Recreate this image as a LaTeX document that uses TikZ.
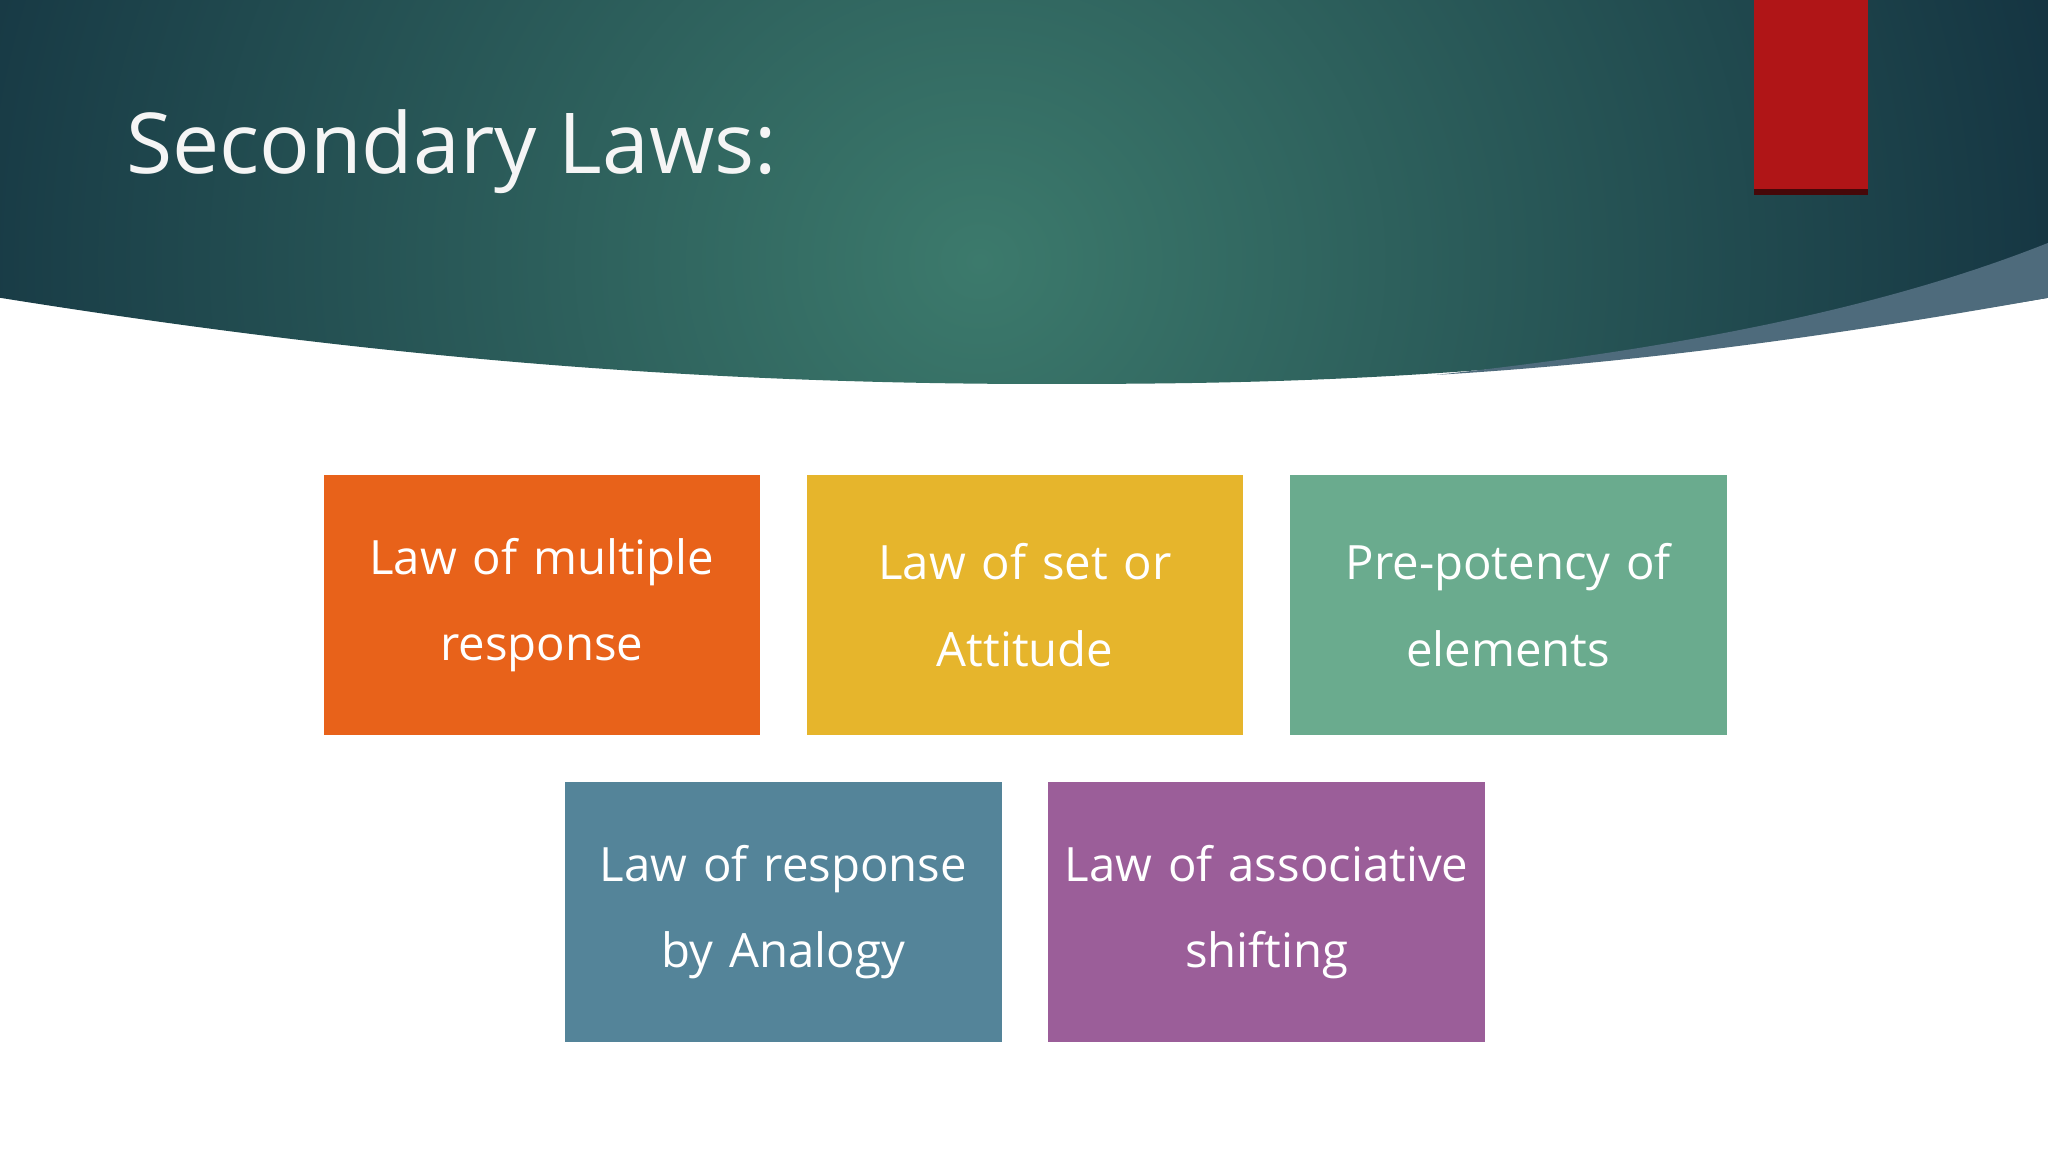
\documentclass[tikz,border=0pt]{standalone}
\usepackage{fontspec}
\setmainfont{Open Sans}
\definecolor{hdark}{HTML}{12303F}
\definecolor{hlight}{HTML}{3C7A6C}
\definecolor{cor}{HTML}{E8621A}
\definecolor{cye}{HTML}{E6B52C}
\definecolor{cgr}{HTML}{6AAB8E}
\definecolor{cbl}{HTML}{548499}
\definecolor{cpu}{HTML}{9B5E99}
\definecolor{cred}{HTML}{B01517}
\definecolor{cstrip}{HTML}{4E6B7C}
\begin{document}
\begin{tikzpicture}[x=0.01cm,y=-0.01cm,
  lawbox/.style={minimum width=3.34cm,minimum height=1.99cm,anchor=north west,inner sep=0pt,
    text=white,align=center,font=\fontsize{10.3pt}{18.8pt}\selectfont,text width=3.3cm}]
\useasboundingbox (0,0) rectangle (1568,882);
\fill[white] (0,0) rectangle (1568,882);
\begin{scope}
\clip (0,0) -- (1568,0) -- (1568,228) .. controls (1200,290) and (1000,294) .. (800,294) .. controls (500,294) and (250,268) .. (0,228) -- cycle;
\shade[inner color=hlight,outer color=hdark] (-150,-650) rectangle (1650,1050);
\end{scope}
% light strip at right
\fill[cstrip] (1100,287) .. controls (1330,262) and (1470,225) .. (1568,186) -- (1568,228) .. controls (1400,258) and (1250,278) .. (1100,287) -- cycle;
\node[anchor=base west,text=white!92!gray,font=\fontsize{18.3pt}{22pt}\selectfont,inner sep=0pt] (title) at (96,133) {Secondary Laws:};
\fill[cred] (1343,0) rectangle (1430,147);
\fill[black!60!cred] (1343,145) rectangle (1430,149);
\node[lawbox,fill=cor] (b1) at (247,363) {Law of multiple\\response};
\node[lawbox,fill=cye] (b2) at (617,363) {Law of set or\\Attitude};
\node[lawbox,fill=cgr] (b3) at (987,363) {Pre-potency of\\elements};
\node[lawbox,fill=cbl] (b4) at (432,598) {Law of response\\by Analogy};
\node[lawbox,fill=cpu] (b5) at (802,598) {Law of associative\\shifting};
\end{tikzpicture}
\end{document}
